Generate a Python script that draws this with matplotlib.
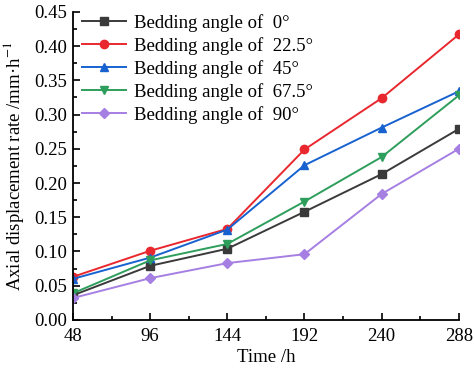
import numpy as np
import matplotlib
matplotlib.use("Agg")
from matplotlib import pyplot as plt
from matplotlib.ticker import MultipleLocator

plt.rcParams['font.family'] = ['Liberation Serif', 'DejaVu Serif']
plt.rcParams['mathtext.fontset'] = 'stix'

# data
time_h = [48, 96, 144, 192, 240, 288]
rate_0 = [0.036, 0.079, 0.104, 0.158, 0.213, 0.279]
rate_22_5 = [0.063, 0.101, 0.133, 0.249, 0.324, 0.417]
rate_45 = [0.060, 0.091, 0.132, 0.226, 0.281, 0.334]
rate_67_5 = [0.039, 0.087, 0.111, 0.173, 0.238, 0.328]
rate_90 = [0.032, 0.061, 0.083, 0.096, 0.184, 0.250]

labels = ['Bedding angle of  0°', 'Bedding angle of  22.5°', 'Bedding angle of  45°',
          'Bedding angle of  67.5°', 'Bedding angle of  90°']
series = [rate_0, rate_22_5, rate_45, rate_67_5, rate_90]
colors = ['#3a3a3a', '#e8282e', '#1862d0', '#2e9e5c', '#a67fe2']
markers = ['s', 'o', '^', 'v', 'D']

fig = plt.figure(figsize=(4.74, 3.72), dpi=100)
ax = fig.add_axes([0.154, 0.140, 0.814, 0.828])

for y, lab, c, m in zip(series, labels, colors, markers):
    ms = 5 if m == 'D' else 6
    ax.plot(time_h, y, color=c, marker=m, markersize=ms, linewidth=1.4, label=lab)

ax.set_xlim(48, 288)
ax.set_ylim(0, 0.45)
ax.set_xticks(time_h)
ax.set_yticks(np.arange(0, 0.451, 0.05))
ax.set_yticklabels(['%.2f' % v for v in np.arange(0, 0.451, 0.05)])
ax.xaxis.set_minor_locator(MultipleLocator(24))
ax.yaxis.set_minor_locator(MultipleLocator(0.025))
ax.tick_params(which='both', direction='in', labelsize=13.5, width=1.2)
ax.tick_params(which='major', length=5)
ax.tick_params(which='minor', length=3)
ax.tick_params(axis='x', pad=6)
ax.tick_params(axis='y', pad=4)

for s in ['top', 'right']:
    ax.spines[s].set_visible(False)
for s in ['left', 'bottom']:
    ax.spines[s].set_linewidth(1.3)

ax.set_xlabel('Time /h', fontsize=13.5, labelpad=3)
ax.set_ylabel('Axial displacement rate /mm·h$^{-1}$', fontsize=13.5, labelpad=6)

ax.legend(loc='upper left', frameon=False, fontsize=13.5, handlelength=2.35,
          handletextpad=0.43, labelspacing=0.27, borderaxespad=0.1,
          bbox_to_anchor=(0.0, 1.024))

plt.savefig('out.png', dpi=100)
